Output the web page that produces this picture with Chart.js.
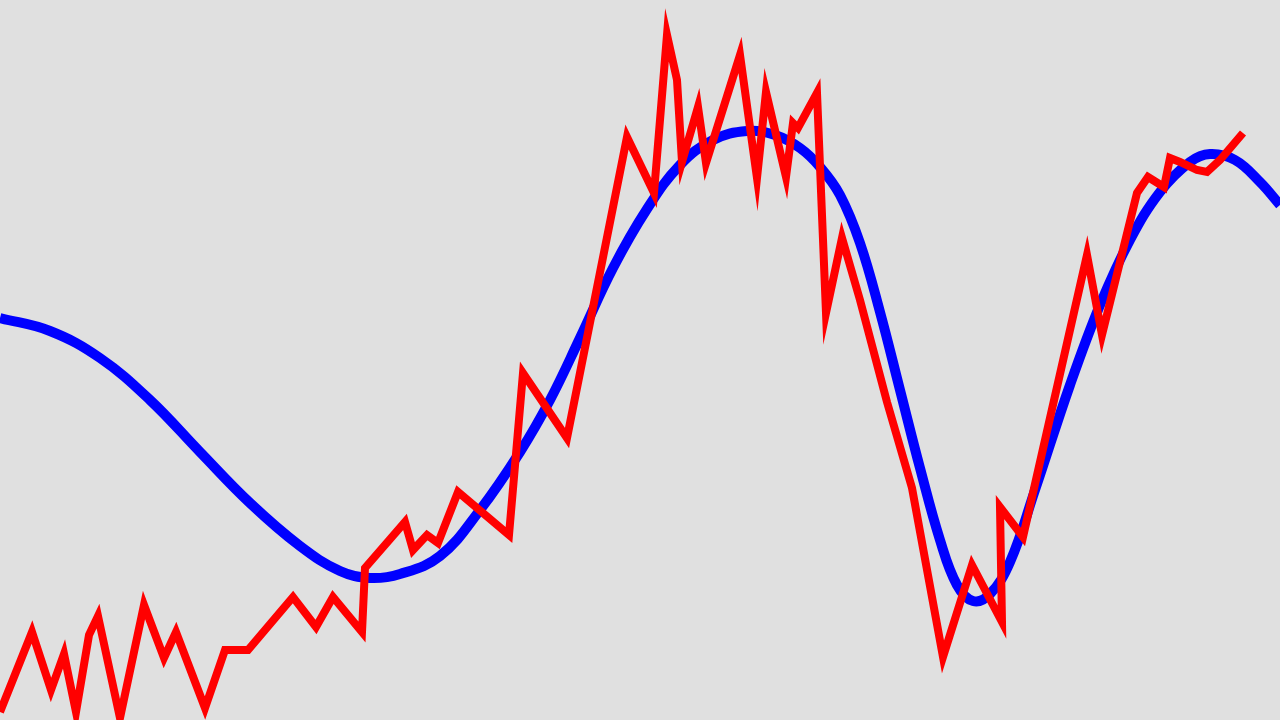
<!DOCTYPE html>
<html>
<head>
<meta charset="utf-8">
<script src="https://cdn.jsdelivr.net/npm/chart.js@4.4.1/dist/chart.umd.min.js"></script>
<style>
    html, body { margin: 0; padding: 0; background: #e0e0e0; }
    #wrap { width: 1280px; height: 720px; }
</style>
</head>
<body>
<div id="wrap"><canvas id="chart"></canvas></div>
<script>
// noisy series (red) - position / height
const redX = [0, 32, 51, 64, 76, 89, 98, 120, 144, 164, 176, 205, 225, 248, 293, 316, 333, 362,
    365, 405, 413, 427, 438, 458, 509, 523, 567, 627, 654, 667, 677, 682, 698, 706, 740, 757,
    766, 786, 793, 798, 817, 826, 842, 860, 887, 912, 943, 972, 1002, 1000, 1023, 1087, 1102,
    1137, 1148, 1164, 1170, 1180, 1197, 1207, 1220, 1243];
const redY = [8, 88, 30, 66, 8, 85, 104, 2, 115, 62, 88, 12, 70, 70, 123, 93, 123, 88,
    152, 198, 170, 185, 177, 228, 185, 347, 282, 583, 527, 685, 640, 558, 613, 557, 665, 542,
    628, 543, 597, 592, 627, 407, 482, 420, 318, 232, 63, 155, 98, 213, 183, 465, 385,
    527, 543, 533, 562, 558, 550, 548, 560, 587];

// smooth fit (blue)
const blueX = [0, 50, 100, 150, 200, 250, 300, 340, 370, 400, 440, 480, 520, 550, 580, 613,
    647, 680, 713, 747, 775, 800, 820, 840, 860, 880, 900, 920, 940, 957, 973, 990, 1010,
    1035, 1070, 1100, 1130, 1160, 1190, 1210, 1235, 1260, 1280];
const blueY = [402, 389, 362, 320, 268, 217, 174, 149, 142, 146, 164, 210, 268, 320, 382, 452,
    511, 555, 580, 589, 585, 572, 553, 525, 477, 408, 330, 252, 180, 135, 119, 126, 158,
    230, 335, 415, 480, 528, 558, 566, 560, 538, 515];

const toPoints = (xs, ys) => xs.map((x, i) => ({ x, y: ys[i] }));

new Chart(document.getElementById('chart'), {
    type: 'line',
    data: {
        datasets: [{
            label: 'measured',
            data: toPoints(redX, redY),
            borderColor: '#ff0000',
            borderWidth: 8,
            borderJoinStyle: 'miter',
            tension: 0,
            pointRadius: 0,
            order: 0
        }, {
            label: 'fit',
            data: toPoints(blueX, blueY),
            borderColor: '#0000ff',
            borderWidth: 10,
            tension: 0.4,
            pointRadius: 0,
            order: 1
        }]
    },
    options: {
        responsive: true,
        maintainAspectRatio: false,
        animation: false,
        layout: { padding: 0 },
        plugins: { legend: { display: false }, tooltip: { enabled: false } },
        scales: {
            x: { type: 'linear', min: 0, max: 1280, display: false },
            y: { min: 0, max: 720, display: false }
        }
    }
});
</script>
</body>
</html>
